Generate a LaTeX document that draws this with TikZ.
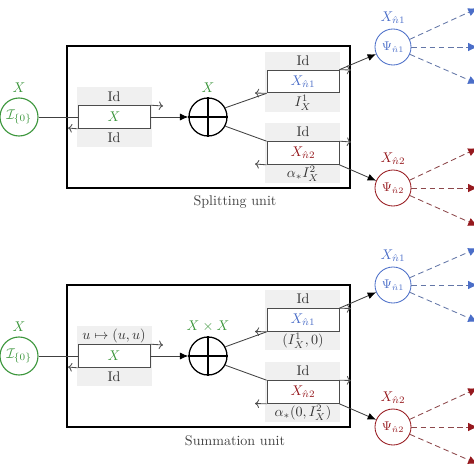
\documentclass[tikz,border=0pt]{standalone}
\usetikzlibrary{arrows.meta}

\definecolor{srcgreen}{RGB}{60,150,60}
\definecolor{outblue}{RGB}{75,110,200}
\definecolor{outred}{RGB}{150,25,30}
\definecolor{boxgray}{RGB}{240,240,240}

\begin{document}
\begin{tikzpicture}[x=0.025cm, y=-0.025cm,
  source/.style = {draw=srcgreen, line width=0.8pt, circle, minimum size=0.95cm, inner sep=0pt, text=srcgreen},
  adder/.style = {draw, line width=0.9pt, circle, minimum size=0.95cm, inner sep=0pt},
  head/.style = {draw=#1, line width=0.6pt, circle, minimum size=0.9cm, inner sep=0pt, text=#1, font=\small},
  cellbox/.style = {draw=black!70, fill=white, line width=0.6pt, minimum width=1.8cm, minimum height=0.57cm, inner sep=0pt},
  boxlabel/.style = {text=black!80, inner sep=0pt},
  unitframe/.style = {draw, line width=1.1pt},
  fan/.style = {dash pattern=on 4pt off 2.5pt, line width=0.6pt, draw=#1!55!gray, -{Latex[length=7pt,width=6pt,color=#1]}},
  feed/.style = {line width=0.6pt, draw=black!75, -{Latex[length=6pt,width=5pt,color=black]}},
  back/.style = {line width=0.6pt, draw=black!70, ->},
  ]
\useasboundingbox (0,0) rectangle (474,474);

% splitting unit
\draw[unitframe] (67,46) rectangle (350,188);
\node[text=black!75] (cap1) at (235,202) {Splitting unit};
\fill[boxgray] (77,87) rectangle (152,147);
\fill[boxgray] (265,52) rectangle (340,112);
\fill[boxgray] (265,123) rectangle (340,183);

\node[source, label={[text=srcgreen]above:$X$}] (src1) at (19,117) {$\mathcal{I}_{\{0\}}$};
\node[cellbox, text=srcgreen] (lbox1) at (114,117) {$X$};
\node[boxlabel] (lt1) at (114,97) {$\mathrm{Id}$};
\node[boxlabel] (lb1) at (114,138) {$\mathrm{Id}$};
\node[adder, label={[text=srcgreen]above:$X$}] (sum1) at (208,117) {};
\node[cellbox, text=outblue] (rbox11) at (303,81.5) {$X_{\hat n 1}$};
\node[boxlabel] (rt11) at (303,61) {$\mathrm{Id}$};
\node[boxlabel] (rb11) at (303,103) {$I_X^1$};
\node[cellbox, text=outred] (rbox12) at (303,153) {$X_{\hat n 2}$};
\node[boxlabel] (rt12) at (303,132) {$\mathrm{Id}$};
\node[boxlabel] (rb12) at (303,174) {$\alpha_* I_X^2$};
\node[head=outblue, label={[text=outblue]above:$X_{\hat n 1}$}] (psi11) at (393,47) {$\Psi_{\hat n 1}$};
\node[head=outred, label={[text=outred]above:$X_{\hat n 2}$}] (psi12) at (393,188) {$\Psi_{\hat n 2}$};

\coordinate (lf1) at (163,106);
\coordinate (lr1) at (68,128);
\coordinate (rf11) at (351,70);
\coordinate (rr11) at (255,93);
\coordinate (rf12) at (351,142);
\coordinate (rr12) at (255,164);

\draw[line width=0.6pt, draw=black!75] (src1) -- (lbox1);
\draw[back] (lbox1.north east) -- (lf1);
\draw[back] (lbox1.south west) -- (lr1);
\draw[feed] (lbox1) -- (sum1);
\draw[line width=0.9pt] (sum1.north) -- (sum1.south) (sum1.west) -- (sum1.east);
\draw[line width=0.6pt, draw=black!75] (sum1.28) -- (rbox11.south west);
\draw[line width=0.6pt, draw=black!75] (sum1.-28) -- (rbox12.north west);
\draw[back] (rbox11.north east) -- (rf11);
\draw[back] (rbox11.south west) -- (rr11);
\draw[back] (rbox12.north east) -- (rf12);
\draw[back] (rbox12.south west) -- (rr12);
\draw[feed] (rbox11.north east) -- (psi11);
\draw[feed] (rbox12.south east) -- (psi12);
\foreach \t [count=\k] in {8,47,84} {
  \coordinate (b1\k) at (478,\t);
  \draw[fan=outblue] (psi11) -- (b1\k);
}
\foreach \t [count=\k] in {148,188,226} {
  \coordinate (r1\k) at (478,\t);
  \draw[fan=outred] (psi12) -- (r1\k);
}

% summation unit
\draw[unitframe] (67,285) rectangle (350,427);
\node[text=black!75] (cap2) at (235,441) {Summation unit};
\fill[boxgray] (77,326) rectangle (152,386);
\fill[boxgray] (265,290) rectangle (340,350);
\fill[boxgray] (265,362) rectangle (340,422);

\node[source, label={[text=srcgreen]above:$X$}] (src2) at (19,356) {$\mathcal{I}_{\{0\}}$};
\node[cellbox, text=srcgreen] (lbox2) at (114,356) {$X$};
\node[boxlabel] (lt2) at (114,336) {$u\mapsto(u,u)$};
\node[boxlabel] (lb2) at (114,377) {$\mathrm{Id}$};
\node[adder, label={[text=srcgreen]above:$X\times X$}] (sum2) at (208,356) {};
\node[cellbox, text=outblue] (rbox21) at (303,320) {$X_{\hat n 1}$};
\node[boxlabel] (rt21) at (303,299) {$\mathrm{Id}$};
\node[boxlabel] (rb21) at (303,341) {$(I_X^1,0)$};
\node[cellbox, text=outred] (rbox22) at (303,392) {$X_{\hat n 2}$};
\node[boxlabel] (rt22) at (303,371) {$\mathrm{Id}$};
\node[boxlabel] (rb22) at (303,413) {$\alpha_*(0,I_X^2)$};
\node[head=outblue, label={[text=outblue]above:$X_{\hat n 1}$}] (psi21) at (393,285) {$\Psi_{\hat n 1}$};
\node[head=outred, label={[text=outred]above:$X_{\hat n 2}$}] (psi22) at (393,427) {$\Psi_{\hat n 2}$};

\coordinate (lf2) at (163,345);
\coordinate (lr2) at (68,367);
\coordinate (rf21) at (351,308.5);
\coordinate (rr21) at (255,331.5);
\coordinate (rf22) at (351,380.5);
\coordinate (rr22) at (255,403.5);

\draw[line width=0.6pt, draw=black!75] (src2) -- (lbox2);
\draw[back] (lbox2.north east) -- (lf2);
\draw[back] (lbox2.south west) -- (lr2);
\draw[feed] (lbox2) -- (sum2);
\draw[line width=0.9pt] (sum2.north) -- (sum2.south) (sum2.west) -- (sum2.east);
\draw[line width=0.6pt, draw=black!75] (sum2.28) -- (rbox21.south west);
\draw[line width=0.6pt, draw=black!75] (sum2.-28) -- (rbox22.north west);
\draw[back] (rbox21.north east) -- (rf21);
\draw[back] (rbox21.south west) -- (rr21);
\draw[back] (rbox22.north east) -- (rf22);
\draw[back] (rbox22.south west) -- (rr22);
\draw[feed] (rbox21.north east) -- (psi21);
\draw[feed] (rbox22.south east) -- (psi22);
\foreach \t [count=\k] in {248,285,322} {
  \coordinate (b2\k) at (478,\t);
  \draw[fan=outblue] (psi21) -- (b2\k);
}
\foreach \t [count=\k] in {388,427,464} {
  \coordinate (r2\k) at (478,\t);
  \draw[fan=outred] (psi22) -- (r2\k);
}
\end{tikzpicture}
\end{document}
